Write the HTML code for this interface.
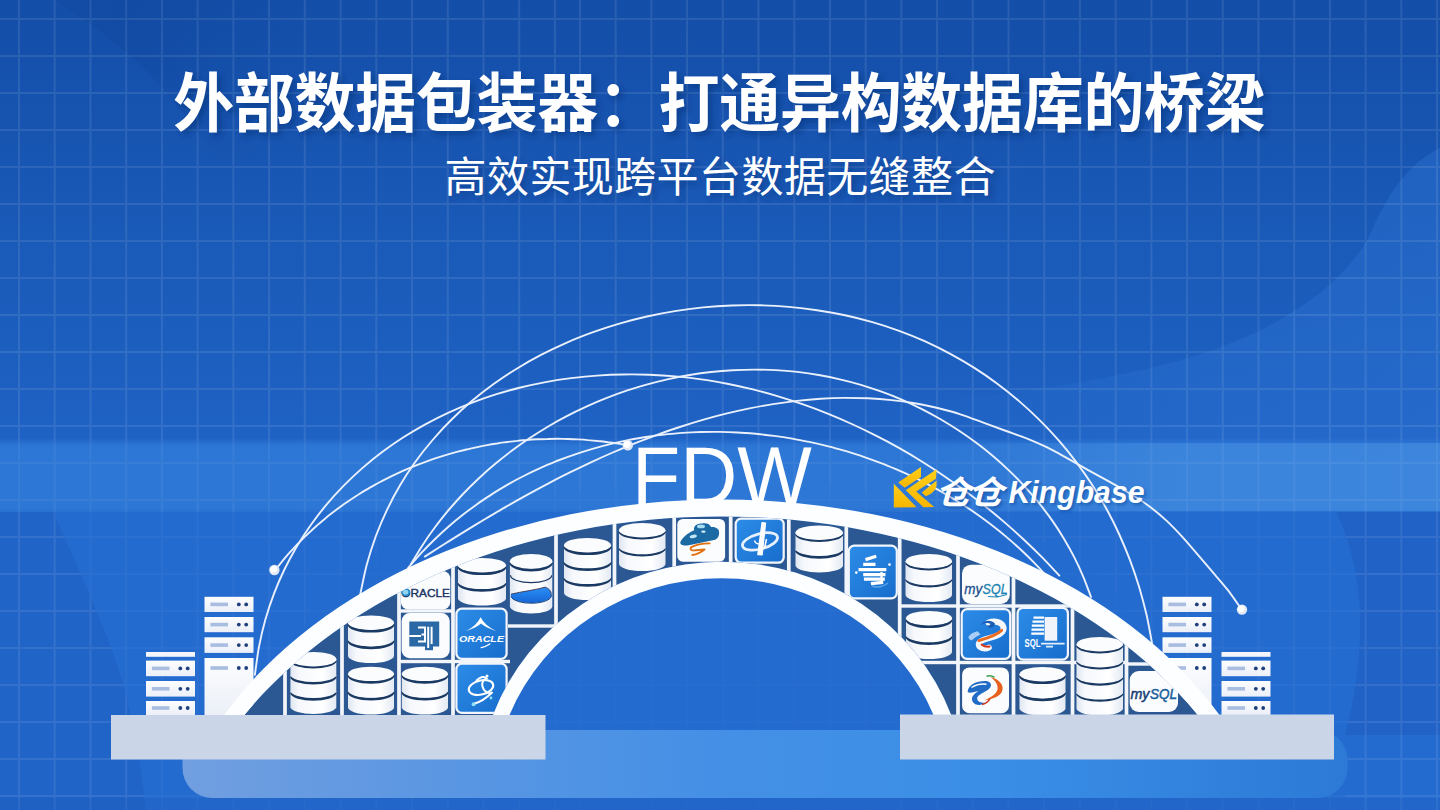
<!DOCTYPE html><html lang="zh"><head><meta charset="utf-8"><title>外部数据包装器</title><style>html,body{margin:0;padding:0;background:#1855b0;}body{width:1440px;height:810px;overflow:hidden;}svg{display:block;}</style></head><body><svg width="1440" height="810" viewBox="0 0 1440 810">
<defs>
<linearGradient id="bg" x1="0" y1="0" x2="0" y2="1">
<stop offset="0" stop-color="#134ea8"/><stop offset="0.3" stop-color="#1a5ab8"/>
<stop offset="0.54" stop-color="#1e62c4"/><stop offset="0.56" stop-color="#2469ca"/>
<stop offset="1" stop-color="#2468cc"/></linearGradient>
<linearGradient id="band" x1="0" y1="438" x2="0" y2="518" gradientUnits="userSpaceOnUse">
<stop offset="0" stop-color="#2f7ad8" stop-opacity="0"/><stop offset="0.1" stop-color="#2f7ad8" stop-opacity="0.8"/>
<stop offset="0.88" stop-color="#2f7ad8" stop-opacity="0.8"/><stop offset="1" stop-color="#2f7ad8" stop-opacity="0"/></linearGradient>
<linearGradient id="bandr" x1="940" y1="0" x2="1440" y2="0" gradientUnits="userSpaceOnUse">
<stop offset="0" stop-color="#4a92e2" stop-opacity="0"/><stop offset="0.45" stop-color="#4a92e2" stop-opacity="0.5"/>
<stop offset="1" stop-color="#4a92e2" stop-opacity="0.55"/></linearGradient>
<linearGradient id="urg" x1="900" y1="0" x2="1440" y2="0" gradientUnits="userSpaceOnUse">
<stop offset="0" stop-color="#2f76d6" stop-opacity="0"/><stop offset="0.5" stop-color="#2f76d6" stop-opacity="0.3"/>
<stop offset="1" stop-color="#2f76d6" stop-opacity="0.38"/></linearGradient>
<radialGradient id="tlg" cx="125" cy="45" r="170" gradientUnits="userSpaceOnUse">
<stop offset="0" stop-color="#0b3f94" stop-opacity="0.28"/><stop offset="0.5" stop-color="#0b3f94" stop-opacity="0.14"/><stop offset="1" stop-color="#0b3f94" stop-opacity="0"/></radialGradient>
<radialGradient id="gfade" cx="720" cy="640" r="1" gradientUnits="userSpaceOnUse" gradientTransform="translate(720 640) scale(600 250) translate(-720 -640)">
<stop offset="0" stop-color="#000"/><stop offset="0.7" stop-color="#222"/><stop offset="1" stop-color="#fff"/></radialGradient>
<linearGradient id="gfade2" x1="0" y1="0" x2="0" y2="810" gradientUnits="userSpaceOnUse">
<stop offset="0" stop-color="#000" stop-opacity="0"/><stop offset="0.535" stop-color="#000" stop-opacity="0"/>
<stop offset="0.555" stop-color="#000" stop-opacity="0.45"/><stop offset="1" stop-color="#000" stop-opacity="0.35"/></linearGradient>
<mask id="gmask"><rect width="1440" height="810" fill="#fff"/>
<rect x="0" y="440" width="1440" height="74" fill="#000" opacity="0.4"/>
<rect x="0" y="512" width="1440" height="298" fill="#000" opacity="0.62"/>
<path d="M0 512H53C75 560 100 618 112 650C126 690 137 735 146 810H0Z" fill="#fff" opacity="0.8"/>
<path d="M1336 512C1365 570 1368 650 1345 735V810H1440V512Z" fill="#fff" opacity="0.8"/>
<ellipse cx="720" cy="650" rx="420" ry="170" fill="#000" opacity="0.5"/>
</mask>
<pattern id="grid" x="18" y="18" width="36" height="36" patternUnits="userSpaceOnUse">
<path d="M0.75 0V36M0 0.75H36" stroke="#fff" stroke-width="1.6" fill="none"/></pattern>
<linearGradient id="gridfade" x1="0" y1="0" x2="0" y2="1">
<stop offset="0" stop-color="#fff" stop-opacity="1"/><stop offset="0.52" stop-color="#fff" stop-opacity="1"/>
<stop offset="0.6" stop-color="#fff" stop-opacity="0.45"/><stop offset="1" stop-color="#fff" stop-opacity="0.45"/></linearGradient>
<mask id="gm"><rect width="1440" height="810" fill="url(#gridfade)"/></mask>
<linearGradient id="bar" x1="0" y1="0" x2="1" y2="0">
<stop offset="0" stop-color="#719fe0"/><stop offset="0.2" stop-color="#5d97e2"/><stop offset="0.45" stop-color="#4590e6"/>
<stop offset="0.7" stop-color="#3a8ee6"/><stop offset="1" stop-color="#2c7ad6"/></linearGradient>
<linearGradient id="cyl" x1="0" y1="0" x2="1" y2="0">
<stop offset="0" stop-color="#dfe6f1"/><stop offset="0.18" stop-color="#f6f8fc"/>
<stop offset="0.7" stop-color="#ffffff"/><stop offset="1" stop-color="#e3e9f3"/></linearGradient>
<linearGradient id="liq" x1="0" y1="0" x2="0" y2="1">
<stop offset="0" stop-color="#2a8ff6"/><stop offset="1" stop-color="#1766d6"/></linearGradient>
<linearGradient id="tileb" x1="0" y1="0" x2="1" y2="1">
<stop offset="0" stop-color="#2c8ce8"/><stop offset="1" stop-color="#186dcc"/></linearGradient>
<linearGradient id="rack" x1="0" y1="0" x2="0" y2="1">
<stop offset="0" stop-color="#fcfdff"/><stop offset="1" stop-color="#ebeff7"/></linearGradient>
<linearGradient id="yel" x1="0" y1="0" x2="0" y2="1">
<stop offset="0" stop-color="#ffcf1a"/><stop offset="1" stop-color="#f7b500"/></linearGradient>
<filter id="ts" x="-5%" y="-30%" width="110%" height="170%">
<feGaussianBlur in="SourceAlpha" stdDeviation="3"/><feOffset dx="3.5" dy="4" result="o"/>
<feFlood flood-color="#082a6c" flood-opacity="0.45"/><feComposite in2="o" operator="in"/>
</filter>
<filter id="ts3" x="-5%" y="-30%" width="110%" height="170%">
<feGaussianBlur in="SourceAlpha" stdDeviation="1.6"/><feOffset dx="1.5" dy="2" result="o"/>
<feFlood flood-color="#0b3a8c" flood-opacity="0.45"/><feComposite in2="o" operator="in"/>
</filter>
<filter id="blur8"><feGaussianBlur stdDeviation="8"/></filter>
<filter id="blur3"><feGaussianBlur stdDeviation="3"/></filter>
</defs>
<rect width="1440" height="810" fill="url(#bg)"/>
<path d="M1440 148C1405 165 1385 200 1370 235C1335 300 1250 345 1150 368C1090 382 1040 390 900 405L900 445L1440 445Z" fill="url(#urg)"/>
<path d="M53 0C100 28 140 62 167 93C200 135 245 195 300 262L500 262L500 0Z" fill="url(#tlg)"/>
<rect x="0" y="438" width="1440" height="80" fill="url(#band)"/>
<rect x="940" y="443" width="500" height="68" fill="url(#bandr)"/>
<rect x="0" y="512" width="1440" height="298" fill="#246bcf"/>
<path d="M0 512H53C75 560 100 618 112 650C126 690 137 735 146 810H0Z" fill="#1f5fc2" opacity="0.6"/>
<path d="M1336 512C1365 570 1368 650 1345 735L1440 735L1440 512Z" fill="#1f5cc0" opacity="0.6"/>
<g stroke="#fff" stroke-width="2" opacity="0.09" fill="none" mask="url(#gmask)"><path d="M19.0 0V810M54.7 0V810M90.5 0V810M126.2 0V810M161.9 0V810M197.6 0V810M233.4 0V810M269.1 0V810M304.8 0V810M340.6 0V810M376.3 0V810M412.0 0V810M447.8 0V810M483.5 0V810M519.2 0V810M554.9 0V810M580.0 0V810M615.7 0V810M651.4 0V810M687.1 0V810M722.8 0V810M758.5 0V810M794.3 0V810M830.0 0V810M865.7 0V810M901.4 0V810M937.1 0V810M972.8 0V810M1008.5 0V810M1044.2 0V810M1079.9 0V810M1115.7 0V810M1151.4 0V810M1187.1 0V810M1222.8 0V810M1258.5 0V810M1294.2 0V810M1329.9 0V810M1365.6 0V810M1401.3 0V810M1437.0 0V810M0 19.0H1440M0 56.0H1440M0 93.0H1440M0 130.0H1440M0 167.0H1440M0 204.0H1440M0 241.0H1440M0 278.0H1440M0 315.0H1440M0 352.0H1440M0 389.0H1440M0 426.0H1440M0 463.0H1440M0 500.0H1440M0 537.0H1440M0 574.0H1440M0 611.0H1440M0 648.0H1440M0 685.0H1440M0 722.0H1440M0 759.0H1440M0 796.0H1440"/></g>
<rect x="182.5" y="730" width="1165" height="68" rx="30" fill="url(#bar)"/>
<rect x="0" y="798" width="1440" height="12" fill="#1b58b8" opacity="0.25"/>
<g fill="none" stroke="#f4f8ff" stroke-width="1.9" stroke-linecap="round" opacity="0.95">
<path d="M360.3 594.0C361.4 589.1 364.3 574.1 366.8 564.5C369.4 554.9 372.4 545.6 375.7 536.5C379.1 527.5 382.8 518.6 386.9 510.1C391.0 501.5 395.4 493.2 400.2 485.1C404.9 477.1 410.0 469.3 415.4 461.8C420.8 454.2 426.6 447.0 432.6 440.0C438.5 433.0 444.8 426.2 451.4 419.7C457.9 413.3 464.7 407.0 471.8 401.1C478.8 395.2 486.1 389.5 493.6 384.1C501.1 378.7 508.8 373.5 516.7 368.7C524.6 363.8 532.7 359.2 541.0 354.9C549.2 350.6 557.7 346.6 566.3 342.8C574.8 339.0 583.6 335.6 592.4 332.4C601.3 329.2 610.3 326.2 619.4 323.6C628.4 320.9 637.6 318.6 646.9 316.5C656.1 314.4 665.5 312.6 674.9 311.1C684.3 309.6 693.7 308.4 703.2 307.4C712.7 306.5 722.2 305.9 731.7 305.5C741.2 305.1 750.8 305.1 760.3 305.3C769.8 305.5 779.3 306.0 788.8 306.9C798.2 307.7 807.7 308.8 817.0 310.2C826.4 311.6 835.7 313.3 845.0 315.3C854.2 317.3 863.3 319.6 872.4 322.2C881.4 324.8 890.3 327.7 899.1 330.9C907.9 334.1 916.6 337.6 925.2 341.4C933.7 345.3 942.1 349.4 950.3 353.8C958.5 358.2 966.5 362.9 974.3 367.9C982.2 372.9 989.9 378.2 997.3 383.7C1004.8 389.3 1012.1 395.1 1019.1 401.1C1026.2 407.2 1033.0 413.5 1039.6 420.1C1046.2 426.6 1052.6 433.4 1058.7 440.4C1064.8 447.4 1070.7 454.7 1076.3 462.1C1081.9 469.6 1087.3 477.3 1092.3 485.1C1097.4 493.0 1102.2 501.1 1106.7 509.3C1111.2 517.5 1115.4 526.0 1119.3 534.5C1123.2 543.1 1126.8 551.8 1130.2 560.7C1133.5 569.5 1136.5 578.5 1139.3 587.5C1142.0 596.6 1144.4 605.8 1146.6 615.0C1148.7 624.3 1151.1 638.3 1152.0 643.0"/>
<path d="M254.9 674.8C255.6 670.1 257.3 655.8 259.0 646.6C260.8 637.4 262.9 628.4 265.4 619.6C267.9 610.9 270.7 602.3 273.9 593.9C277.1 585.6 280.6 577.4 284.4 569.5C288.2 561.6 292.4 553.9 296.8 546.4C301.2 539.0 306.0 531.7 311.0 524.7C316.0 517.7 321.2 510.9 326.7 504.4C332.2 497.8 338.0 491.5 344.0 485.4C350.0 479.3 356.2 473.5 362.6 467.9C369.0 462.3 375.7 456.9 382.5 451.8C389.3 446.7 396.3 441.9 403.4 437.3C410.6 432.7 417.9 428.3 425.3 424.3C432.8 420.2 440.4 416.3 448.1 412.8C455.8 409.2 463.7 405.9 471.6 402.8C479.5 399.8 487.6 397.0 495.7 394.4C503.9 391.9 512.1 389.6 520.5 387.5C528.8 385.5 537.2 383.7 545.6 382.1C554.1 380.5 562.6 379.2 571.2 378.1C579.7 377.1 588.4 376.2 597.0 375.6C605.6 375.0 614.3 374.6 623.0 374.5C631.7 374.3 640.4 374.4 649.2 374.8C657.9 375.1 666.6 375.6 675.3 376.4C684.0 377.2 692.7 378.2 701.3 379.4C710.0 380.6 718.6 382.1 727.2 383.7C735.8 385.4 744.4 387.3 752.9 389.4C761.3 391.5 769.8 393.8 778.2 396.3C786.5 398.8 794.9 401.5 803.1 404.4C811.4 407.3 819.6 410.4 827.7 413.6C835.8 416.9 843.8 420.3 851.8 424.0C859.7 427.6 867.6 431.4 875.4 435.4C883.2 439.3 890.9 443.4 898.5 447.7C906.1 452.0 913.6 456.4 921.0 461.0C928.4 465.6 935.7 470.3 942.9 475.2C950.1 480.1 957.2 485.1 964.2 490.2C971.2 495.3 978.0 500.6 984.8 505.9C991.5 511.3 998.1 516.8 1004.6 522.4C1011.1 528.0 1017.4 533.7 1023.7 539.5C1029.9 545.3 1036.0 551.2 1041.9 557.2C1047.8 563.2 1056.4 572.5 1059.3 575.5"/>
<path d="M411.0 564.0C412.9 560.9 418.5 551.4 422.5 545.2C426.5 539.1 430.6 533.1 435.0 527.3C439.3 521.5 443.9 515.8 448.5 510.2C453.2 504.7 458.1 499.2 463.0 494.0C468.0 488.7 473.2 483.6 478.4 478.7C483.7 473.7 489.1 468.9 494.7 464.3C500.2 459.6 505.9 455.1 511.7 450.8C517.5 446.4 523.4 442.3 529.4 438.3C535.4 434.3 541.6 430.4 547.8 426.7C554.0 423.0 560.3 419.5 566.8 416.2C573.2 412.8 579.7 409.7 586.3 406.7C592.8 403.7 599.5 400.8 606.2 398.2C613.0 395.5 619.8 393.0 626.6 390.7C633.5 388.4 640.4 386.3 647.4 384.4C654.3 382.5 661.4 380.7 668.4 379.1C675.5 377.6 682.6 376.2 689.7 375.0C696.8 373.8 703.9 372.8 711.1 372.0C718.3 371.2 725.5 370.6 732.7 370.2C739.8 369.8 747.1 369.6 754.3 369.6C761.5 369.6 768.7 369.7 775.8 370.1C783.0 370.5 790.2 371.1 797.4 371.9C804.5 372.7 811.7 373.7 818.7 375.0C825.8 376.2 832.9 377.6 839.9 379.3C847.0 380.9 854.0 382.8 860.9 384.8C867.8 386.9 874.7 389.2 881.5 391.7C888.3 394.1 895.1 396.8 901.7 399.7C908.4 402.6 915.0 405.7 921.4 408.9C927.9 412.2 934.3 415.7 940.6 419.3C946.9 423.0 953.0 426.8 959.1 430.8C965.1 434.8 971.1 439.0 976.9 443.3C982.7 447.6 988.3 452.2 993.8 456.8C999.3 461.5 1004.7 466.4 1009.9 471.4C1015.1 476.4 1020.2 481.5 1025.0 486.8C1029.9 492.1 1034.6 497.6 1039.1 503.2C1043.6 508.8 1047.9 514.5 1052.1 520.4C1056.2 526.3 1060.1 532.3 1063.8 538.4C1067.5 544.6 1071.0 550.8 1074.2 557.2C1077.5 563.6 1080.5 570.2 1083.3 576.8C1086.1 583.4 1089.7 593.7 1091.0 597.0"/>
<path d="M424.8 556.6C428.1 554.5 438.2 548.0 444.9 543.8C451.6 539.5 458.4 535.3 465.2 531.1C472.0 527.0 478.8 522.8 485.6 518.7C492.5 514.7 499.3 510.6 506.2 506.7C513.1 502.7 520.1 498.8 527.1 494.9C534.0 491.1 541.0 487.3 548.1 483.6C555.1 479.9 562.2 476.2 569.4 472.7C576.5 469.2 583.7 465.7 590.9 462.3C598.1 459.0 605.4 455.7 612.7 452.5C620.0 449.4 627.3 446.3 634.7 443.3C642.1 440.4 649.6 437.5 657.1 434.8C664.6 432.1 672.2 429.4 679.8 427.0C687.4 424.5 695.1 422.1 702.8 419.9C710.5 417.7 718.3 415.6 726.0 413.7C733.8 411.8 741.7 410.0 749.5 408.4C757.4 406.8 765.2 405.4 773.1 404.1C781.0 402.9 788.9 401.8 796.8 400.9C804.8 400.0 812.7 399.3 820.6 398.8C828.5 398.3 836.4 398.0 844.3 397.9C852.2 397.9 860.1 398.0 867.9 398.3C875.8 398.7 883.6 399.3 891.4 400.1C899.2 400.9 907.0 402.0 914.7 403.3C922.4 404.6 930.1 406.2 937.7 408.0C945.3 409.9 952.9 411.9 960.4 414.3C967.9 416.7 975.3 419.6 982.7 422.3C990.1 425.0 997.5 427.8 1004.8 430.5C1012.1 433.2 1019.5 435.6 1026.6 438.4C1033.8 441.3 1040.8 444.4 1047.7 447.7C1054.6 451.1 1061.2 454.9 1068.0 458.6C1074.7 462.4 1081.4 466.3 1088.2 470.1C1095.0 473.9 1101.9 477.6 1108.8 481.4C1115.6 485.2 1122.5 488.9 1129.1 493.0C1135.7 497.0 1142.3 501.1 1148.5 505.7C1154.7 510.3 1160.6 515.2 1166.2 520.4C1171.8 525.6 1177.1 531.2 1182.3 536.9C1187.5 542.6 1192.5 548.5 1197.5 554.4C1202.6 560.3 1207.7 566.2 1212.7 572.2C1217.8 578.1 1223.0 583.9 1227.9 590.2C1232.7 596.5 1239.5 606.5 1241.9 609.7"/>
<path d="M274.8 570.6C275.9 569.3 279.0 565.2 281.2 562.6C283.4 559.9 285.6 557.3 287.8 554.7C290.1 552.2 292.3 549.6 294.7 547.1C297.0 544.7 299.3 542.2 301.7 539.8C304.1 537.4 306.5 535.1 309.0 532.8C311.4 530.4 313.9 528.2 316.5 525.9C319.0 523.7 321.5 521.5 324.1 519.4C326.7 517.2 329.3 515.1 332.0 513.1C334.6 511.0 337.3 509.0 340.0 507.0C342.7 505.0 345.5 503.1 348.3 501.2C351.0 499.3 353.8 497.5 356.6 495.7C359.5 493.9 362.3 492.1 365.2 490.4C368.1 488.7 371.0 487.0 373.9 485.4C376.8 483.7 379.7 482.2 382.7 480.6C385.7 479.1 388.7 477.6 391.7 476.1C394.7 474.6 397.7 473.2 400.8 471.8C403.8 470.5 406.9 469.1 410.0 467.8C413.1 466.5 416.2 465.3 419.4 464.1C422.5 462.9 425.6 461.7 428.8 460.6C432.0 459.5 435.1 458.4 438.3 457.4C441.5 456.4 444.7 455.4 448.0 454.4C451.2 453.5 454.4 452.6 457.7 451.7C460.9 450.8 464.2 450.0 467.5 449.3C470.7 448.5 474.0 447.8 477.3 447.1C480.6 446.4 483.9 445.7 487.2 445.1C490.5 444.5 493.8 444.0 497.2 443.5C500.5 442.9 503.8 442.5 507.2 442.0C510.5 441.6 513.9 441.2 517.2 440.9C520.6 440.5 523.9 440.2 527.3 440.0C530.7 439.7 534.0 439.5 537.4 439.3C540.8 439.2 544.1 439.0 547.5 439.0C550.9 438.9 554.2 438.8 557.6 438.8C561.0 438.9 564.3 438.9 567.7 439.0C571.1 439.1 574.4 439.2 577.8 439.4C581.2 439.6 584.5 439.8 587.9 440.1C591.2 440.3 594.6 440.6 597.9 441.0C601.3 441.3 604.6 441.7 608.0 442.2C611.3 442.6 614.6 443.1 617.9 443.6C621.3 444.1 626.2 445.0 627.9 445.3"/>
<path d="M408.2 567.9C410.3 565.5 416.6 558.1 420.9 553.4C425.3 548.7 429.7 544.2 434.3 539.8C438.8 535.4 443.4 531.1 448.1 527.0C452.8 522.9 457.7 518.9 462.5 515.1C467.4 511.2 472.4 507.5 477.4 503.9C482.5 500.4 487.6 496.9 492.8 493.6C497.9 490.3 503.2 487.2 508.5 484.1C513.8 481.1 519.2 478.2 524.7 475.5C530.1 472.7 535.6 470.1 541.2 467.6C546.7 465.1 552.4 462.8 558.0 460.5C563.7 458.3 569.4 456.2 575.2 454.3C580.9 452.3 586.7 450.5 592.5 448.8C598.4 447.1 604.3 445.5 610.2 444.1C616.1 442.6 622.0 441.3 628.0 440.1C634.0 439.0 640.0 437.9 646.0 437.0C652.0 436.0 658.1 435.2 664.1 434.6C670.2 433.9 676.3 433.4 682.4 432.9C688.5 432.5 694.6 432.2 700.7 432.0C706.8 431.9 712.9 431.8 719.1 431.9C725.2 432.0 731.3 432.2 737.4 432.5C743.6 432.8 749.7 433.3 755.8 433.8C761.9 434.4 768.0 435.1 774.1 435.9C780.2 436.7 786.3 437.6 792.3 438.6C798.4 439.7 804.4 440.9 810.4 442.1C816.4 443.4 822.4 444.8 828.4 446.3C834.3 447.8 840.2 449.5 846.1 451.2C852.0 453.0 857.9 454.8 863.7 456.8C869.5 458.8 875.3 460.9 881.0 463.1C886.8 465.3 892.4 467.7 898.1 470.1C903.7 472.5 909.3 475.1 914.8 477.7C920.4 480.4 925.8 483.2 931.2 486.1C936.7 488.9 942.0 491.9 947.3 495.1C952.6 498.2 957.8 501.4 962.9 504.7C968.1 508.0 973.2 511.5 978.1 515.0C983.1 518.6 988.1 522.2 992.9 526.0C997.7 529.7 1002.5 533.6 1007.2 537.6C1011.8 541.5 1016.4 545.6 1020.9 549.8C1025.4 554.0 1029.8 558.3 1034.1 562.7C1038.4 567.1 1044.5 573.9 1046.6 576.1"/>
</g>
<circle cx="274.4" cy="570" r="5.2" fill="#dfe8f6"/><circle cx="273.59999999999997" cy="569.2" r="3.4" fill="#fff"/>
<circle cx="627.8" cy="445.3" r="5.2" fill="#dfe8f6"/><circle cx="627.0" cy="444.5" r="3.4" fill="#fff"/>
<circle cx="1242" cy="609.6" r="5.2" fill="#dfe8f6"/><circle cx="1241.2" cy="608.8000000000001" r="3.4" fill="#fff"/>
<text transform="translate(632 504.5) scale(0.94 1)" font-family="Liberation Sans, sans-serif" font-size="84" fill="#fff">FDW</text>
<rect x="146" y="652" width="49" height="4.8" fill="#f4f6fb"/><rect x="146" y="660.6" width="49" height="15.6" fill="url(#rack)"/><rect x="151.9" y="666.6" width="17.6" height="3.6" fill="#a9bde0"/><circle cx="180.3" cy="668.4" r="1.9" fill="#1e3f7a"/><circle cx="187.7" cy="668.4" r="1.9" fill="#1e3f7a"/><rect x="146" y="681" width="49" height="15.6" fill="url(#rack)"/><rect x="151.9" y="687.0" width="17.6" height="3.6" fill="#a9bde0"/><circle cx="180.3" cy="688.8" r="1.9" fill="#1e3f7a"/><circle cx="187.7" cy="688.8" r="1.9" fill="#1e3f7a"/><rect x="146" y="701" width="49" height="14" fill="url(#rack)"/><rect x="151.9" y="706.2" width="17.6" height="3.6" fill="#a9bde0"/><circle cx="180.3" cy="708.0" r="1.9" fill="#1e3f7a"/><circle cx="187.7" cy="708.0" r="1.9" fill="#1e3f7a"/>
<rect x="204.5" y="596.8" width="49" height="15.2" fill="url(#rack)"/><rect x="210.4" y="602.6" width="17.6" height="3.6" fill="#a9bde0"/><circle cx="238.8" cy="604.4" r="1.9" fill="#1e3f7a"/><circle cx="246.2" cy="604.4" r="1.9" fill="#1e3f7a"/><rect x="204.5" y="617" width="49" height="15.2" fill="url(#rack)"/><rect x="210.4" y="622.8" width="17.6" height="3.6" fill="#a9bde0"/><circle cx="238.8" cy="624.6" r="1.9" fill="#1e3f7a"/><circle cx="246.2" cy="624.6" r="1.9" fill="#1e3f7a"/><rect x="204.5" y="637.3" width="49" height="15.6" fill="url(#rack)"/><rect x="210.4" y="643.3" width="17.6" height="3.6" fill="#a9bde0"/><circle cx="238.8" cy="645.1" r="1.9" fill="#1e3f7a"/><circle cx="246.2" cy="645.1" r="1.9" fill="#1e3f7a"/><rect x="204.5" y="658" width="49" height="57" fill="url(#rack)"/><rect x="210.4" y="666.2" width="17.6" height="3.6" fill="#a9bde0"/><circle cx="238.8" cy="668" r="1.9" fill="#1e3f7a"/><circle cx="246.2" cy="668" r="1.9" fill="#1e3f7a"/>
<rect x="1162.5" y="596.8" width="49" height="15.2" fill="url(#rack)"/><rect x="1168.4" y="602.6" width="17.6" height="3.6" fill="#a9bde0"/><circle cx="1196.8" cy="604.4" r="1.9" fill="#1e3f7a"/><circle cx="1204.2" cy="604.4" r="1.9" fill="#1e3f7a"/><rect x="1162.5" y="617" width="49" height="15.2" fill="url(#rack)"/><rect x="1168.4" y="622.8" width="17.6" height="3.6" fill="#a9bde0"/><circle cx="1196.8" cy="624.6" r="1.9" fill="#1e3f7a"/><circle cx="1204.2" cy="624.6" r="1.9" fill="#1e3f7a"/><rect x="1162.5" y="637.3" width="49" height="15.6" fill="url(#rack)"/><rect x="1168.4" y="643.3" width="17.6" height="3.6" fill="#a9bde0"/><circle cx="1196.8" cy="645.1" r="1.9" fill="#1e3f7a"/><circle cx="1204.2" cy="645.1" r="1.9" fill="#1e3f7a"/><rect x="1162.5" y="658" width="49" height="57" fill="url(#rack)"/><rect x="1168.4" y="666.2" width="17.6" height="3.6" fill="#a9bde0"/><circle cx="1196.8" cy="668" r="1.9" fill="#1e3f7a"/><circle cx="1204.2" cy="668" r="1.9" fill="#1e3f7a"/>
<rect x="1221.5" y="652" width="49" height="4.8" fill="#f4f6fb"/><rect x="1221.5" y="660.6" width="49" height="15.6" fill="url(#rack)"/><rect x="1227.4" y="666.6" width="17.6" height="3.6" fill="#a9bde0"/><circle cx="1255.8" cy="668.4" r="1.9" fill="#1e3f7a"/><circle cx="1263.2" cy="668.4" r="1.9" fill="#1e3f7a"/><rect x="1221.5" y="681" width="49" height="15.6" fill="url(#rack)"/><rect x="1227.4" y="687.0" width="17.6" height="3.6" fill="#a9bde0"/><circle cx="1255.8" cy="688.8" r="1.9" fill="#1e3f7a"/><circle cx="1263.2" cy="688.8" r="1.9" fill="#1e3f7a"/><rect x="1221.5" y="701" width="49" height="14" fill="url(#rack)"/><rect x="1227.4" y="706.2" width="17.6" height="3.6" fill="#a9bde0"/><circle cx="1255.8" cy="708.0" r="1.9" fill="#1e3f7a"/><circle cx="1263.2" cy="708.0" r="1.9" fill="#1e3f7a"/>
<clipPath id="cells"><path d="M244.4 715A558.9 415.4 0 0 1 1197.8 715L951.2 715A244.2 234.3 0 0 0 493.0 715Z"/></clipPath>
<g clip-path="url(#cells)">
<rect x="220" y="490" width="1000" height="230" fill="#2b5892"/>
<rect x="283.15" y="490" width="3.7" height="230" fill="#f2f5fa"/>
<rect x="340.15" y="490" width="3.7" height="230" fill="#f2f5fa"/>
<rect x="397.15" y="490" width="3.7" height="230" fill="#f2f5fa"/>
<rect x="451.15" y="490" width="3.7" height="230" fill="#f2f5fa"/>
<rect x="554.15" y="490" width="3.7" height="230" fill="#f2f5fa"/>
<rect x="612.65" y="490" width="3.7" height="230" fill="#f2f5fa"/>
<rect x="672.35" y="490" width="3.7" height="230" fill="#f2f5fa"/>
<rect x="728.85" y="490" width="3.7" height="230" fill="#f2f5fa"/>
<rect x="786.9499999999999" y="490" width="3.7" height="230" fill="#f2f5fa"/>
<rect x="844.4499999999999" y="490" width="3.7" height="230" fill="#f2f5fa"/>
<rect x="897.85" y="490" width="3.7" height="230" fill="#f2f5fa"/>
<rect x="956.15" y="490" width="3.7" height="230" fill="#f2f5fa"/>
<rect x="1011.65" y="490" width="3.7" height="230" fill="#f2f5fa"/>
<rect x="1070.65" y="490" width="3.7" height="230" fill="#f2f5fa"/>
<rect x="1124.65" y="490" width="3.7" height="230" fill="#f2f5fa"/>
<rect x="399" y="659.8" width="111" height="3.4" fill="#f2f5fa"/>
<rect x="399" y="609.3" width="54" height="3.4" fill="#f2f5fa"/>
<rect x="508" y="624.3" width="48" height="3.4" fill="#f2f5fa"/>
<rect x="900" y="604.3" width="171" height="3.4" fill="#f2f5fa"/>
<rect x="846" y="660.8" width="282" height="3.4" fill="#f2f5fa"/>
<rect x="1128" y="662.3" width="54" height="3.4" fill="#f2f5fa"/>
<path d="M290.4 691.3V707.3A23.0 7.2 0 0 0 336.3 707.3V691.3Z" fill="url(#cyl)"/><path d="M291.3 692.5A22.1 7.2 0 0 0 335.4 692.5" fill="none" stroke="#1b3a63" stroke-width="3"/><path d="M290.4 675.2V691.3A23.0 7.2 0 0 0 336.3 691.3V675.2Z" fill="url(#cyl)"/><path d="M291.3 676.4A22.1 7.2 0 0 0 335.4 676.4" fill="none" stroke="#1b3a63" stroke-width="3"/><path d="M290.4 659.2V675.2A23.0 7.2 0 0 0 336.3 675.2V659.2Z" fill="url(#cyl)"/><path d="M291.3 660.4A22.1 7.2 0 0 0 335.4 660.4" fill="none" stroke="#1b3a63" stroke-width="3"/><ellipse cx="313.4" cy="659.2" rx="23.0" ry="7.2" fill="#fbfcfe"/>
<path d="M348.0 639.2V655.8A23.0 7.2 0 0 0 394.0 655.8V639.2Z" fill="url(#cyl)"/><path d="M348.9 640.5A22.1 7.2 0 0 0 393.1 640.5" fill="none" stroke="#1b3a63" stroke-width="3"/><path d="M348.0 622.7V639.2A23.0 7.2 0 0 0 394.0 639.2V622.7Z" fill="url(#cyl)"/><path d="M348.9 623.9A22.1 7.2 0 0 0 393.1 623.9" fill="none" stroke="#1b3a63" stroke-width="3"/><ellipse cx="371.0" cy="622.7" rx="23.0" ry="7.2" fill="#fbfcfe"/>
<path d="M348.0 690.6V707.3A23.0 7.2 0 0 0 394.0 707.3V690.6Z" fill="url(#cyl)"/><path d="M348.9 691.8A22.1 7.2 0 0 0 393.1 691.8" fill="none" stroke="#1b3a63" stroke-width="3"/><path d="M348.0 673.9V690.6A23.0 7.2 0 0 0 394.0 690.6V673.9Z" fill="url(#cyl)"/><path d="M348.9 675.1A22.1 7.2 0 0 0 393.1 675.1" fill="none" stroke="#1b3a63" stroke-width="3"/><ellipse cx="371.0" cy="673.9" rx="23.0" ry="7.2" fill="#fbfcfe"/>
<path d="M401.8 690.6V707.3A23.1 7.2 0 0 0 448.0 707.3V690.6Z" fill="url(#cyl)"/><path d="M402.7 691.8A22.2 7.2 0 0 0 447.1 691.8" fill="none" stroke="#1b3a63" stroke-width="3"/><path d="M401.8 673.9V690.6A23.1 7.2 0 0 0 448.0 690.6V673.9Z" fill="url(#cyl)"/><path d="M402.7 675.1A22.2 7.2 0 0 0 447.1 675.1" fill="none" stroke="#1b3a63" stroke-width="3"/><ellipse cx="424.9" cy="673.9" rx="23.1" ry="7.2" fill="#fbfcfe"/>
<path d="M458.0 581.8V598.3A24.0 7.2 0 0 0 506.0 598.3V581.8Z" fill="url(#cyl)"/><path d="M458.9 583.0A23.1 7.2 0 0 0 505.1 583.0" fill="none" stroke="#1b3a63" stroke-width="3"/><path d="M458.0 565.2V581.8A24.0 7.2 0 0 0 506.0 581.8V565.2Z" fill="url(#cyl)"/><path d="M458.9 566.4A23.1 7.2 0 0 0 505.1 566.4" fill="none" stroke="#1b3a63" stroke-width="3"/><ellipse cx="482.0" cy="565.2" rx="24.0" ry="7.2" fill="#fbfcfe"/>
<path d="M564.0 576.9V592.8A23.5 7.2 0 0 0 611.0 592.8V576.9Z" fill="url(#cyl)"/><path d="M564.9 578.1A22.6 7.2 0 0 0 610.1 578.1" fill="none" stroke="#1b3a63" stroke-width="3"/><path d="M564.0 561.1V576.9A23.5 7.2 0 0 0 611.0 576.9V561.1Z" fill="url(#cyl)"/><path d="M564.9 562.3A22.6 7.2 0 0 0 610.1 562.3" fill="none" stroke="#1b3a63" stroke-width="3"/><path d="M564.0 545.2V561.1A23.5 7.2 0 0 0 611.0 561.1V545.2Z" fill="url(#cyl)"/><path d="M564.9 546.4A22.6 7.2 0 0 0 610.1 546.4" fill="none" stroke="#1b3a63" stroke-width="3"/><ellipse cx="587.5" cy="545.2" rx="23.5" ry="7.2" fill="#fbfcfe"/>
<path d="M619.0 547.0V563.8A23.2 7.2 0 0 0 665.5 563.8V547.0Z" fill="url(#cyl)"/><path d="M619.9 548.2A22.4 7.2 0 0 0 664.6 548.2" fill="none" stroke="#1b3a63" stroke-width="3"/><path d="M619.0 530.2V547.0A23.2 7.2 0 0 0 665.5 547.0V530.2Z" fill="url(#cyl)"/><path d="M619.9 531.4A22.4 7.2 0 0 0 664.6 531.4" fill="none" stroke="#1b3a63" stroke-width="3"/><ellipse cx="642.2" cy="530.2" rx="23.2" ry="7.2" fill="#fbfcfe"/>
<path d="M795.5 549.2V565.8A23.8 7.2 0 0 0 843.0 565.8V549.2Z" fill="url(#cyl)"/><path d="M796.4 550.5A22.9 7.2 0 0 0 842.1 550.5" fill="none" stroke="#1b3a63" stroke-width="3"/><path d="M795.5 532.7V549.2A23.8 7.2 0 0 0 843.0 549.2V532.7Z" fill="url(#cyl)"/><path d="M796.4 533.9A22.9 7.2 0 0 0 842.1 533.9" fill="none" stroke="#1b3a63" stroke-width="3"/><ellipse cx="819.2" cy="532.7" rx="23.8" ry="7.2" fill="#fbfcfe"/>
<path d="M905.5 578.0V594.8A23.2 7.2 0 0 0 952.0 594.8V578.0Z" fill="url(#cyl)"/><path d="M906.4 579.2A22.4 7.2 0 0 0 951.1 579.2" fill="none" stroke="#1b3a63" stroke-width="3"/><path d="M905.5 561.2V578.0A23.2 7.2 0 0 0 952.0 578.0V561.2Z" fill="url(#cyl)"/><path d="M906.4 562.4A22.4 7.2 0 0 0 951.1 562.4" fill="none" stroke="#1b3a63" stroke-width="3"/><ellipse cx="928.8" cy="561.2" rx="23.2" ry="7.2" fill="#fbfcfe"/>
<path d="M906.0 635.0V651.8A23.0 7.2 0 0 0 952.0 651.8V635.0Z" fill="url(#cyl)"/><path d="M906.9 636.2A22.1 7.2 0 0 0 951.1 636.2" fill="none" stroke="#1b3a63" stroke-width="3"/><path d="M906.0 618.2V635.0A23.0 7.2 0 0 0 952.0 635.0V618.2Z" fill="url(#cyl)"/><path d="M906.9 619.4A22.1 7.2 0 0 0 951.1 619.4" fill="none" stroke="#1b3a63" stroke-width="3"/><ellipse cx="929.0" cy="618.2" rx="23.0" ry="7.2" fill="#fbfcfe"/>
<path d="M1019.5 691.2V708.3A23.0 7.2 0 0 0 1065.5 708.3V691.2Z" fill="url(#cyl)"/><path d="M1020.4 692.5A22.1 7.2 0 0 0 1064.6 692.5" fill="none" stroke="#1b3a63" stroke-width="3"/><path d="M1019.5 674.2V691.2A23.0 7.2 0 0 0 1065.5 691.2V674.2Z" fill="url(#cyl)"/><path d="M1020.4 675.4A22.1 7.2 0 0 0 1064.6 675.4" fill="none" stroke="#1b3a63" stroke-width="3"/><ellipse cx="1042.5" cy="674.2" rx="23.0" ry="7.2" fill="#fbfcfe"/>
<path d="M1076.5 692.3V708.3A23.2 7.2 0 0 0 1123.0 708.3V692.3Z" fill="url(#cyl)"/><path d="M1077.4 693.5A22.4 7.2 0 0 0 1122.1 693.5" fill="none" stroke="#1b3a63" stroke-width="3"/><path d="M1076.5 676.2V692.3A23.2 7.2 0 0 0 1123.0 692.3V676.2Z" fill="url(#cyl)"/><path d="M1077.4 677.5A22.4 7.2 0 0 0 1122.1 677.5" fill="none" stroke="#1b3a63" stroke-width="3"/><path d="M1076.5 660.2V676.2A23.2 7.2 0 0 0 1123.0 676.2V660.2Z" fill="url(#cyl)"/><path d="M1077.4 661.4A22.4 7.2 0 0 0 1122.1 661.4" fill="none" stroke="#1b3a63" stroke-width="3"/><path d="M1076.5 644.2V660.2A23.2 7.2 0 0 0 1123.0 660.2V644.2Z" fill="url(#cyl)"/><path d="M1077.4 645.4A22.4 7.2 0 0 0 1122.1 645.4" fill="none" stroke="#1b3a63" stroke-width="3"/><ellipse cx="1099.8" cy="644.2" rx="23.2" ry="7.2" fill="#fbfcfe"/>
<path d="M509.9 561.3V606.2A21.2 7.4 0 0 0 552.3 606.2V561.3Z" fill="url(#cyl)"/><path d="M510.9 594.2C521.9 591.5 535.0999999999999 590 545.0999999999999 587.2C549.3 588.5 551.3 591.5 551.3 594.5A20.2 7.6 0 0 1 510.9 596.2Z" fill="url(#liq)"/><path d="M510.9 594.2C521.9 591.5 535.0999999999999 590 545.0999999999999 587.2C549.3 588.5 551.3 591.5 551.3 594.5" fill="none" stroke="#3a3550" stroke-width="0.9"/><path d="M510.9 596.4A20.2 7.6 0 0 0 551.3 594.8" fill="none" stroke="#16407a" stroke-width="1"/><path d="M510.5 575.3A20.6 7.4 0 0 0 551.6999999999999 575.3" fill="none" stroke="#1b3a63" stroke-width="1.2"/><path d="M510.79999999999995 562.5A20.3 7.4 0 0 0 551.4 562.5" fill="none" stroke="#1b3a63" stroke-width="3"/><ellipse cx="531.1" cy="561.3" rx="21.2" ry="7.4" fill="#fbfcfe"/>
<rect x="400.9" y="571" width="49.400000000000034" height="38.39999999999998" rx="7.5" fill="#fbfcfe"/>
<text x="401.2" y="596.5" font-family="Liberation Sans, sans-serif" font-size="10.8" fill="#1a3560" stroke="#1a3560" stroke-width="0.4" textLength="48.8" lengthAdjust="spacingAndGlyphs">ORACLE</text>
<ellipse cx="405.6" cy="592.2" rx="3.6" ry="3.1" fill="#8fd3f0" stroke="#1f8fcf" stroke-width="1.5"/>
<rect x="401.6" y="613.1" width="48.099999999999966" height="45.10000000000002" rx="8" fill="#fbfcfe"/>
<rect x="409.3" y="621.5" width="29.9" height="25" fill="#2b68a6"/><rect x="425" y="644" width="8" height="6.2" fill="#2b68a6"/>
<path d="M409.3 636H421M418 627.5H425V641.5H418M421.5 634.5H425M428.2 626.7V648M431.6 626.7V644" stroke="#fff" stroke-width="2" fill="none"/>
<rect x="455.3" y="607.6" width="52.39999999999998" height="52.39999999999998" rx="6.5" fill="#f2f6fc"/><rect x="457.5" y="609.8000000000001" width="47.99999999999998" height="47.99999999999998" rx="4.5" fill="url(#tileb)"/>
<path d="M465.8 631.2Q476.5 626 480.6 617.3Q485 626 496.6 631.2Q485.5 627.6 481 623.6Q476.5 627.6 465.8 631.2Z" fill="#fff"/>
<text x="459" y="642.2" font-family="Liberation Sans, sans-serif" font-size="9.3" font-weight="700" font-style="italic" fill="#fff" textLength="45" lengthAdjust="spacingAndGlyphs">ORACLE</text>
<path d="M481.2 647.6Q486 646.6 489.8 644" stroke="#fff" stroke-width="1.4" fill="none" stroke-linecap="round"/>
<rect x="455.3" y="662.5" width="52.39999999999998" height="51.5" rx="6.5" fill="#f2f6fc"/><rect x="457.5" y="664.7" width="47.99999999999998" height="47.1" rx="4.5" fill="url(#tileb)"/>
<ellipse cx="481" cy="687.5" rx="12.5" ry="7" transform="rotate(-14 481 687.5)" fill="none" stroke="#fff" stroke-width="2.1"/><path d="M476.5 680.5Q483 674.5 486.5 678.5Q481 681 482.5 686.5Q484 692.5 491 693.5M473.5 704Q483 701.5 492 692.5" stroke="#fff" stroke-width="2" fill="none" stroke-linecap="round"/><circle cx="473.6" cy="704.2" r="2" fill="#8fe0f6"/><circle cx="487" cy="676" r="1.5" fill="#fff"/><circle cx="491" cy="698" r="1.4" fill="#8fe0f6"/>
<rect x="677.3" y="519" width="47.80000000000007" height="42.700000000000045" rx="5.5" fill="#fbfcfe"/>
<path d="M680.3 542.3C683 536 690 532 694.2 530.2C693 526 697 523.5 702 523.5C707 522.5 710 524.5 711 527C716 526.5 719.5 529 719.1 533C719 537 717 539.5 714 540C706 541.5 698 543.5 690 545C685 546 680 546 680.3 542.3Z" fill="#1b6aa3"/><ellipse cx="701" cy="526.4" rx="4" ry="1.9" fill="#a8dcf0"/><ellipse cx="703.4" cy="531.6" rx="2.2" ry="1.2" fill="#d6eef8"/><ellipse cx="693.3" cy="536.4" rx="3.6" ry="1.6" fill="#c2e6f5" transform="rotate(-12 693.3 536.4)"/><path d="M709.6 543.4Q698 543.6 690.9 547.3Q689.4 551.2 696 550.2L704.5 549.4Q699 554 692.4 555" stroke="#e2700f" stroke-width="1.9" fill="none" stroke-linecap="round" stroke-linejoin="round"/>
<rect x="734.6" y="517.6" width="50.19999999999993" height="46.19999999999993" rx="6.5" fill="#f2f6fc"/><rect x="736.8000000000001" y="519.8000000000001" width="45.79999999999993" height="41.79999999999993" rx="4.5" fill="url(#tileb)"/>
<ellipse cx="760" cy="541.4" rx="18" ry="7.6" transform="rotate(-15 760 541.4)" fill="none" stroke="#e6f1fd" stroke-width="2.8"/><path d="M762 522.6L765.6 523L762.2 554.8L757.8 554.6Z" fill="#fff" stroke="#fff" stroke-width="1.2" stroke-linejoin="round"/><path d="M754.5 540.5Q755 543.5 759 544M766.5 539L764.6 548" stroke="#fff" stroke-width="1.5" fill="none"/>
<rect x="847.7" y="544.6" width="50.19999999999993" height="54.799999999999955" rx="6.5" fill="#f2f6fc"/><rect x="849.9000000000001" y="546.8000000000001" width="45.79999999999993" height="50.399999999999956" rx="4.5" fill="url(#tileb)"/>
<path d="M865.5 559.6L876.3 556.2M863.2 564.3H875.5M858.5 569.7H886.3M863.2 574.7H885.5M863.9 579.2H884.8M870.9 583.6L883.2 582.4" stroke="#fff" stroke-width="3.3" fill="none"/><path d="M881.5 572V583" stroke="#fff" stroke-width="2.2"/><circle cx="856.3" cy="572.6" r="1.3" fill="#fff"/><circle cx="889.5" cy="564.6" r="1.3" fill="#fff"/><path d="M872 586Q880 589 888 583" stroke="#5aa6ea" stroke-width="1.5" fill="none"/>
<rect x="962" y="564.7" width="47.799999999999955" height="39.299999999999955" rx="9" fill="#fbfcfe"/>
<text x="964.3" y="593.5" font-family="Liberation Sans, sans-serif" font-size="14" font-style="italic" fill="#1a4f8c" stroke="#1a4f8c" stroke-width="0.3" textLength="18" lengthAdjust="spacingAndGlyphs">my</text>
<text x="982.6" y="593.5" font-family="Liberation Sans, sans-serif" font-size="14.5" font-style="italic" fill="#1b83b3" stroke="#1b83b3" stroke-width="0.3" textLength="25" lengthAdjust="spacingAndGlyphs">SQL</text>
<path d="M988 596.5Q997 598.5 1007 594.5" stroke="#1b83b3" stroke-width="1" fill="none"/>
<rect x="960.6" y="608.1" width="50.69999999999993" height="51.89999999999998" rx="6.5" fill="#f2f6fc"/><rect x="962.8000000000001" y="610.3000000000001" width="46.29999999999993" height="47.49999999999998" rx="4.5" fill="url(#tileb)"/>
<path d="M980.5 634.5L977.5 631.2Q970.5 632.8 968.3 637.2Q969 639.6 971.5 640.4Q975.5 636.6 980.5 634.5Z" fill="#a9cdf5"/><path d="M988.5 622.6C995 620.2 1002.5 622 1003.6 627.5C1004.4 633 997 636.2 989 638.2C983 639.8 978.2 641.5 978.8 645C979.4 648 984.5 649.6 988.8 647.6" stroke="#f6f8fc" stroke-width="6" fill="none" stroke-linecap="round" stroke-linejoin="round"/><path d="M1001.8 630.2C998 634.4 990.5 637.2 978.8 640.6" stroke="#ec6b1f" stroke-width="2.8" fill="none" stroke-linecap="round"/><path d="M981.6 644.6Q985 647.2 989.6 646.6" stroke="#d8391a" stroke-width="2" fill="none" stroke-linecap="round"/><path d="M980.6 625C983.5 620.2 991 619 994.8 623.2C995 626.2 992.8 628 990.4 627.8C988.4 627.6 987 626.6 986.7 625.6C988.6 625.9 990.4 625.2 990.4 623.8C988 622.2 984 622.9 980.6 625Z" fill="#1c5db4"/>
<rect x="962.1" y="667.4" width="46.89999999999998" height="45.89999999999998" rx="7.5" fill="#fbfcfe"/>
<path d="M967.6 692C968 684 978 680.5 986 681C990 681.5 992 684 990.5 687C988 691.5 980 693 977.5 697C976 700.5 980 703.5 985 702.5C982 706 975 706 972.5 701.5C970.5 697 974.5 693.5 978.5 691C974.5 691.5 970 694 967.6 692Z" fill="#1f6bc6"/><path d="M971.5 687.5Q978 683.2 986.5 684.2" stroke="#fff" stroke-width="1.4" fill="none"/><path d="M990.5 677C999 679 1005.5 685.5 1001.5 692.5C998.5 697.5 990 699.5 984.5 700.3C990.5 697.5 996.8 694 997.6 689C998.2 684 994.5 680 990.5 677Z" fill="#e8611c"/><path d="M986.5 676.2Q990.5 675 994.5 677.2" stroke="#3a9a4a" stroke-width="1.6" fill="none"/><path d="M982 704.5Q988 703 990 698.5" stroke="#c9381a" stroke-width="1.6" fill="none"/>
<rect x="1016.5" y="606.7" width="52.5" height="54.0" rx="6.5" fill="#f2f6fc"/><rect x="1018.7" y="608.9000000000001" width="48.1" height="49.6" rx="4.5" fill="url(#tileb)"/>
<rect x="1044.6" y="617" width="12.6" height="23.7" fill="#f1f5fb"/><path d="M1033.5 617.6H1044M1032.5 621.6H1044M1031.8 625.6H1044M1031.5 629.6H1044M1031.3 633.6H1044" stroke="#fff" stroke-width="2.2"/><text x="1024.6" y="647.4" font-family="Liberation Sans, sans-serif" font-size="10.5" font-weight="700" fill="#fff" textLength="16" lengthAdjust="spacingAndGlyphs">SQL</text><path d="M1041 643.7H1064.6M1046 646.6H1053" stroke="#e3eefb" stroke-width="1.7"/>
<rect x="1129.7" y="671" width="48.299999999999955" height="41" rx="9" fill="#fbfcfe"/>
<text x="1130.5" y="698.5" font-family="Liberation Sans, sans-serif" font-size="14" font-style="italic" fill="#173f73" stroke="#173f73" stroke-width="0.5" textLength="19" lengthAdjust="spacingAndGlyphs">my</text>
<text x="1150" y="698.5" font-family="Liberation Sans, sans-serif" font-size="14.5" font-style="italic" fill="#1a5f9c" stroke="#1a5f9c" stroke-width="0.5" textLength="27" lengthAdjust="spacingAndGlyphs">SQL</text>
</g>
<path d="M223.9 715A561.3 400.5 0 0 1 1219.5 715L1197.8 715A558.9 415.4 0 0 0 244.4 715Z" fill="#fdfeff"/>
<path d="M493.0 715A244.2 234.3 0 0 1 951.2 715L933.5 715A227.7 215.2 0 0 0 509.5 715Z" fill="#fdfeff"/>
<rect x="111" y="715" width="434.5" height="44.5" fill="#cbd5e8"/>
<rect x="900" y="714.5" width="434" height="45" fill="#cbd5e8"/>
<g>
<path d="M893.8 483.8V507.5L916.6 507.2Z" fill="url(#yel)"/><path d="M921 467.1V477L904.7 487.8L898.2 482.4Z" fill="url(#yel)"/><path d="M936.6 469.2L936 478.7L916.2 491.6L934.2 506.9L923.4 507.2L905.7 490.2Z" fill="url(#yel)"/><path d="M936.6 480.4Q937 486 935.3 489.2Q932 494 925.7 496.3L921.7 492.6Z" fill="url(#yel)"/>
<g filter="url(#ts3)" fill="#fff"><text transform="translate(935.3 504) scale(1.17 1.05)" font-family="Liberation Sans, Noto Sans CJK SC, sans-serif" font-size="31" font-weight="700" font-style="italic" letter-spacing="-3.5">仓仓</text><text x="1008.5" y="502.5" font-family="Liberation Sans, sans-serif" font-size="31" font-weight="700" font-style="italic" textLength="136" lengthAdjust="spacingAndGlyphs">Kingbase</text></g>
<g fill="#fff"><text transform="translate(935.3 504) scale(1.17 1.05)" font-family="Liberation Sans, Noto Sans CJK SC, sans-serif" font-size="31" font-weight="700" font-style="italic" letter-spacing="-3.5">仓仓</text><text x="1008.5" y="502.5" font-family="Liberation Sans, sans-serif" font-size="31" font-weight="700" font-style="italic" textLength="136" lengthAdjust="spacingAndGlyphs">Kingbase</text></g>
</g>
<g font-family="Liberation Sans, Noto Sans CJK SC, sans-serif" fill="#fff" text-anchor="middle">
<text transform="translate(719.3 125.7) scale(1 1.035)" font-size="61" font-weight="700" letter-spacing="-0.3" filter="url(#ts)">外部数据包装器：打通异构数据库的桥梁</text>
<text transform="translate(719.3 125.7) scale(1 1.035)" font-size="61" font-weight="700" letter-spacing="-0.3">外部数据包装器：打通异构数据库的桥梁</text>
<text x="720.2" y="192.4" font-size="42" letter-spacing="0.4" filter="url(#ts)">高效实现跨平台数据无缝整合</text>
<text x="720.2" y="192.4" font-size="42" letter-spacing="0.4">高效实现跨平台数据无缝整合</text>
</g>
</svg></body></html>
